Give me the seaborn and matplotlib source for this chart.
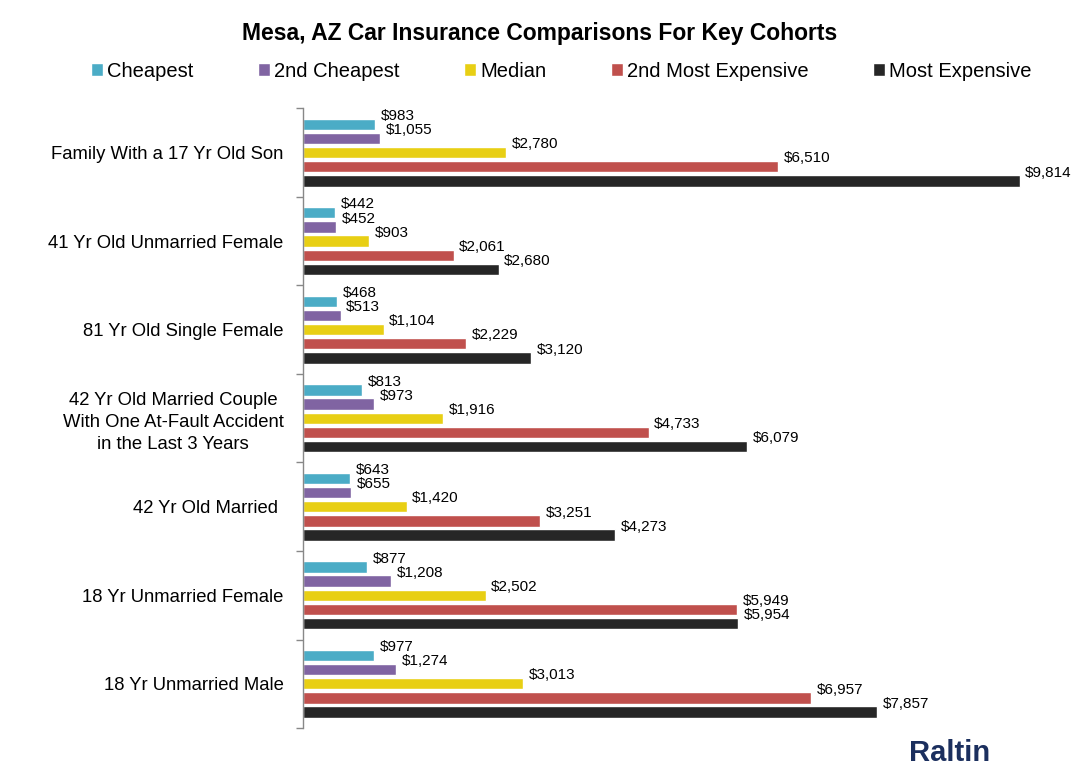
import pandas as pd
import matplotlib.pyplot as plt
import seaborn as sns
from matplotlib.patches import Patch

# Cohorts and premiums
cohorts = [
    'Family With a 17 Yr Old Son',
    '41 Yr Old Unmarried Female',
    '81 Yr Old Single Female',
    '42 Yr Old Married Couple\nWith One At-Fault Accident\nin the Last 3 Years',
    '42 Yr Old Married ',
    '18 Yr Unmarried Female',
    '18 Yr Unmarried Male',
]
tiers = ['Cheapest', '2nd Cheapest', 'Median', '2nd Most Expensive', 'Most Expensive']

cheapest = [983, 442, 468, 813, 643, 877, 977]
second_cheapest = [1055, 452, 513, 973, 655, 1208, 1274]
median = [2780, 903, 1104, 1916, 1420, 2502, 3013]
second_most = [6510, 2061, 2229, 4733, 3251, 5949, 6957]
most_expensive = [9814, 2680, 3120, 6079, 4273, 5954, 7857]

colors = ['#4bacc6', '#8064a2', '#e8cf14', '#c0504d', '#262626']

series = [cheapest, second_cheapest, median, second_most, most_expensive]
rows = []
for tier, vals in zip(tiers, series):
    for cohort, v in zip(cohorts, vals):
        rows.append({'cohort': cohort, 'tier': tier, 'premium': v})
df = pd.DataFrame(rows)

sns.set_style('white')
plt.rcParams['font.family'] = ['Liberation Sans', 'DejaVu Sans']
plt.rcParams['text.color'] = 'black'
plt.rcParams['ytick.labelcolor'] = 'black'

fig = plt.figure(figsize=(10.8, 7.68), dpi=100)
ax = fig.add_axes([0.2806, 0.052, 0.71, 0.807])

sns.barplot(data=df, y='cohort', x='premium', hue='tier', order=cohorts,
            hue_order=tiers, palette=colors, orient='h', width=0.8, gap=0.2,
            saturation=1, legend=False, ax=ax)

# value labels, slightly above the bar end
for container in ax.containers:
    for bar in container:
        w = bar.get_width()
        yc = bar.get_y() + bar.get_height() / 2
        ax.annotate(f'${w:,.0f}', (w, yc), xytext=(4, 6), textcoords='offset points',
                    ha='left', va='center', fontsize=11, color='black')

ax.set_xlim(0, 10500)
ax.set_ylim(len(cohorts) - 0.5, -0.5)
ax.set_xlabel('')
ax.set_ylabel('')
ax.set_xticks([])
for s in ['top', 'right', 'bottom']:
    ax.spines[s].set_visible(False)
ax.spines['left'].set_color('#888888')
ax.spines['left'].set_linewidth(1)

ax.tick_params(axis='y', which='major', left=False, length=0, pad=14, labelsize=13.3,
               labelcolor='black')
ax.set_yticks([i - 0.5 for i in range(len(cohorts) + 1)], minor=True)
ax.tick_params(axis='y', which='minor', left=True, length=5, color='#888888', width=1)
for lbl in ax.get_yticklabels():
    lbl.set_multialignment('center')
    lbl.set_linespacing(1.35)

fig.suptitle('Mesa, AZ Car Insurance Comparisons For Key Cohorts', y=0.972,
             fontsize=16.5, fontweight='bold', color='black')

handles = [Patch(facecolor=c, label=t) for c, t in zip(colors, tiers)]
leg = fig.legend(handles=handles, loc='center', bbox_to_anchor=(0.52, 0.907), ncol=5,
                 frameon=False, fontsize=14.5, handlelength=0.6, handleheight=0.6,
                 handletextpad=0.2, columnspacing=3.2)
for t in leg.get_texts():
    t.set_color('black')

fig.text(0.879, 0.02, 'Raltin', color='#1b2f5e', fontsize=21, fontweight='bold',
         ha='center', va='center')

plt.savefig('out.png', dpi=100)
